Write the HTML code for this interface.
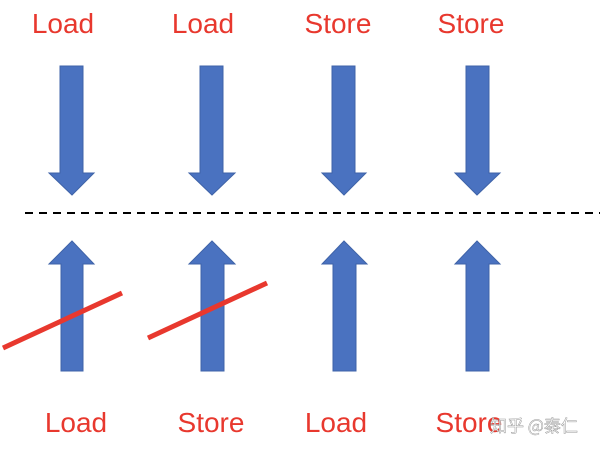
<!DOCTYPE html>
<html><head><style>body{margin:0;background:#fff}</style></head><body>
<svg width="600" height="451" xmlns="http://www.w3.org/2000/svg" style="display:block">
<g font-family="Liberation Sans, sans-serif" font-size="28" fill="#e8382e" text-anchor="middle">
<text x="63" y="33">Load</text>
<text x="203" y="33">Load</text>
<text x="338" y="33">Store</text>
<text x="471" y="33">Store</text>
<text x="76" y="432">Load</text>
<text x="211" y="432">Store</text>
<text x="336" y="432">Load</text>
<text x="469" y="432">Store</text>
</g>
<g fill="#4a72c0" stroke="#3f63a8" stroke-width="1">
<polygon points="60,66 83,66 83,173 94,173 72,195 49,173 60,173"/>
<polygon points="200,66 223,66 223,173 235,173 212,195 189,173 200,173"/>
<polygon points="332,66 355,66 355,173 366,173 344,195 322,173 332,173"/>
<polygon points="466,66 489,66 489,173 500,173 477,195 455,173 466,173"/>
<polygon points="61,371 83,371 83,264 94,264 72,241 49,264 61,264"/>
<polygon points="201,371 224,371 224,264 235,264 212,241 189,264 201,264"/>
<polygon points="333,371 356,371 356,264 367,264 344,241 322,264 333,264"/>
<polygon points="466,371 489,371 489,264 500,264 477,241 455,264 466,264"/>
</g>
<line x1="25" y1="213" x2="600" y2="213" stroke="#000" stroke-width="2" stroke-dasharray="8,6"/>
<line x1="3" y1="348" x2="122" y2="293" stroke="#e8382e" stroke-width="5"/>
<line x1="148" y1="338" x2="267" y2="283" stroke="#e8382e" stroke-width="5"/>
<text x="490" y="432" font-family="Noto Sans CJK SC, sans-serif" font-size="17" fill="#ffffff" fill-opacity="0.85" stroke="#999" stroke-width="0.5">知乎 @秦仁</text>
</svg>
</body></html>
